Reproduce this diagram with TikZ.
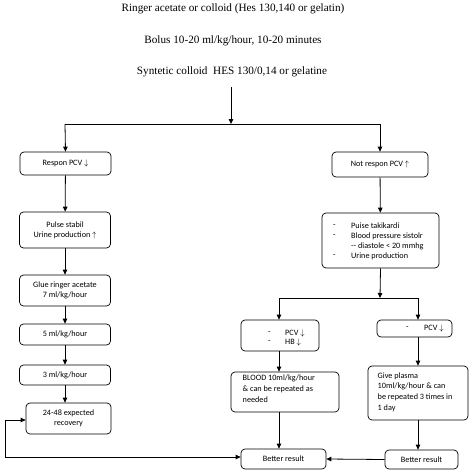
\documentclass[tikz,border=0pt]{standalone}
\usepackage{fontspec}
\setmainfont{Liberation Serif}
\newfontfamily\boxfont{Carlito}
\usetikzlibrary{arrows.meta}
\tikzset{
  x=1pt, y=-1pt,
  bx/.style={draw, rounded corners=4pt, line width=0.7pt, inner sep=0pt, font=\boxfont\fontsize{8.2}{10}\selectfont},
  top/.style={font=\fontsize{11.2}{12}\selectfont, inner sep=0pt},
  con/.style={line width=0.8pt, -{Triangle[length=5pt,width=4.5pt]}},
  ln/.style={line width=0.8pt},
  txt/.style={inner sep=0pt, font=\boxfont\fontsize{8.2}{10}\selectfont, anchor=west},
}
\newcommand{\dn}{$\downarrow$}
\newcommand{\up}{$\uparrow$}
\begin{document}
\begin{tikzpicture}
\useasboundingbox (0,0) rectangle (474,474);
% top texts
\node[top] (t1) at (233,9) {Ringer acetate or colloid (Hes 130,140 or gelatin)};
\node[top] (t2) at (233,41) {Bolus 10-20 ml/kg/hour, 10-20 minutes};
\node[top] (t3) at (232,72) {Syntetic colloid\ \ HES 130/0,14 or gelatine};
\coordinate (ts) at (231,87);
\coordinate (sp) at (231,124);
\coordinate (spl) at (65,124);
\coordinate (spr) at (380,124);

% left column
\node[bx, minimum width=91pt, minimum height=23pt] (a1) at (65.5,163.5) {Respon PCV \dn};
\node[bx, minimum width=91pt, minimum height=36pt, align=center] (a2) at (65,230) {Pulse stabil\\Urine production \up};
\node[bx, minimum width=91pt, minimum height=31pt, align=center] (a3) at (65,290.5) {Glue ringer acetate\\7 ml/kg/hour};
\node[bx, minimum width=91pt, minimum height=21pt] (a4) at (65,334.5) {5 ml/kg/hour};
\node[bx, minimum width=91pt, minimum height=20pt] (a5) at (65,375) {3 ml/kg/hour};
\node[bx, minimum width=85pt, minimum height=31pt, align=center] (a6) at (68.5,418.5) {24-48 expected\\recovery};

% right column
\node[bx, minimum width=96pt, minimum height=25pt] (b1) at (380,164.5) {Not respon PCV \up};
\node[bx, minimum width=117pt, minimum height=55pt] (b2) at (380.5,240.5) {};
\node[txt] (b2d1) at (333,226) {-};
\node[txt] (b2l1) at (351,226) {Puise takikardi};
\node[txt] (b2d2) at (333,236) {-};
\node[txt] (b2l2) at (351,236) {Blood pressure sistolr};
\node[txt] (b2l3) at (351,246.5) {-- diastole < 20 mmhg};
\node[txt] (b2d4) at (333,256.5) {-};
\node[txt] (b2l4) at (351,256.5) {Urine production};
\coordinate (s2) at (380,298);
\coordinate (s2l) at (279,298);
\coordinate (s2r) at (418,298);

\node[bx, minimum width=78pt, minimum height=31pt] (c1) at (280,335.5) {};
\node[txt] (c1d1) at (268,333) {-};
\node[txt] (c1l1) at (285,333) {PCV \dn};
\node[txt] (c1d2) at (268,342.5) {-};
\node[txt] (c1l2) at (285,342.5) {HB \dn};
\node[bx, minimum width=75pt, minimum height=17pt] (d1) at (414.5,328.5) {};
\node[txt] (d1d) at (406,328.5) {-};
\node[txt] (d1l) at (424,328.5) {PCV \dn};

\node[bx, minimum width=108pt, minimum height=40pt] (c2) at (285,392) {};
\node[txt, align=left, anchor=north west, font=\boxfont\fontsize{8.2}{11}\selectfont] (c2t) at (242.5,375) {BLOOD 10ml/kg/hour\\\& can be repeated as\\needed};
\node[bx, minimum width=100pt, minimum height=54pt] (d2) at (418,393) {};
\node[txt, align=left, anchor=north west, font=\boxfont\fontsize{8.2}{10.6}\selectfont] (d2t) at (377.5,372.5) {Give plasma\\10ml/kg/hour \& can\\be repeated 3 times in\\1 day};

\node[bx, minimum width=85pt, minimum height=20pt] (c3) at (283.5,459) {Better result};
\node[bx, minimum width=73pt, minimum height=19pt] (d3) at (421.5,459.5) {Better result};
\coordinate (fb1) at (5,457);
\coordinate (fb2) at (5,420);

% connectors
\draw[con] (ts) -- (sp);
\draw[ln] (spl) -- (spr);
\draw[con] (spl) -- (a1.north);
\draw[con] (spr) -- (b1.north);
\draw[con] (a1) -- (a2);
\draw[con] (a2) -- (a3);
\draw[con] (a3) -- (a4);
\draw[con] (a4) -- (a5);
\draw[con] (a5.south) -- (a5.south |- a6.north);
\draw[con] (b1) -- (b2);
\draw[con] (b2.south) -- (s2);
\draw[ln] (s2l) -- (s2r);
\draw[con] (s2l) -- (s2l |- c1.north);
\draw[con] (s2r) -- (s2r |- d1.north);
\draw[con] (c1.south -| s2l) -- (c2.north -| s2l);
\draw[con] (d1.south -| s2r) -- (d2.north -| s2r);
\draw[con] (c2.south -| s2l) -- (c3.north -| s2l);
\draw[con] (d2.south -| s2r) -- (d3.north -| s2r);
\draw[con] (d3.west) -- (c3.east);
\draw[con] (fb1) -- (fb2) -- (a6.west |- fb2);
\draw[con] (fb1) -- (c3.west |- fb1);
\end{tikzpicture}
\end{document}
